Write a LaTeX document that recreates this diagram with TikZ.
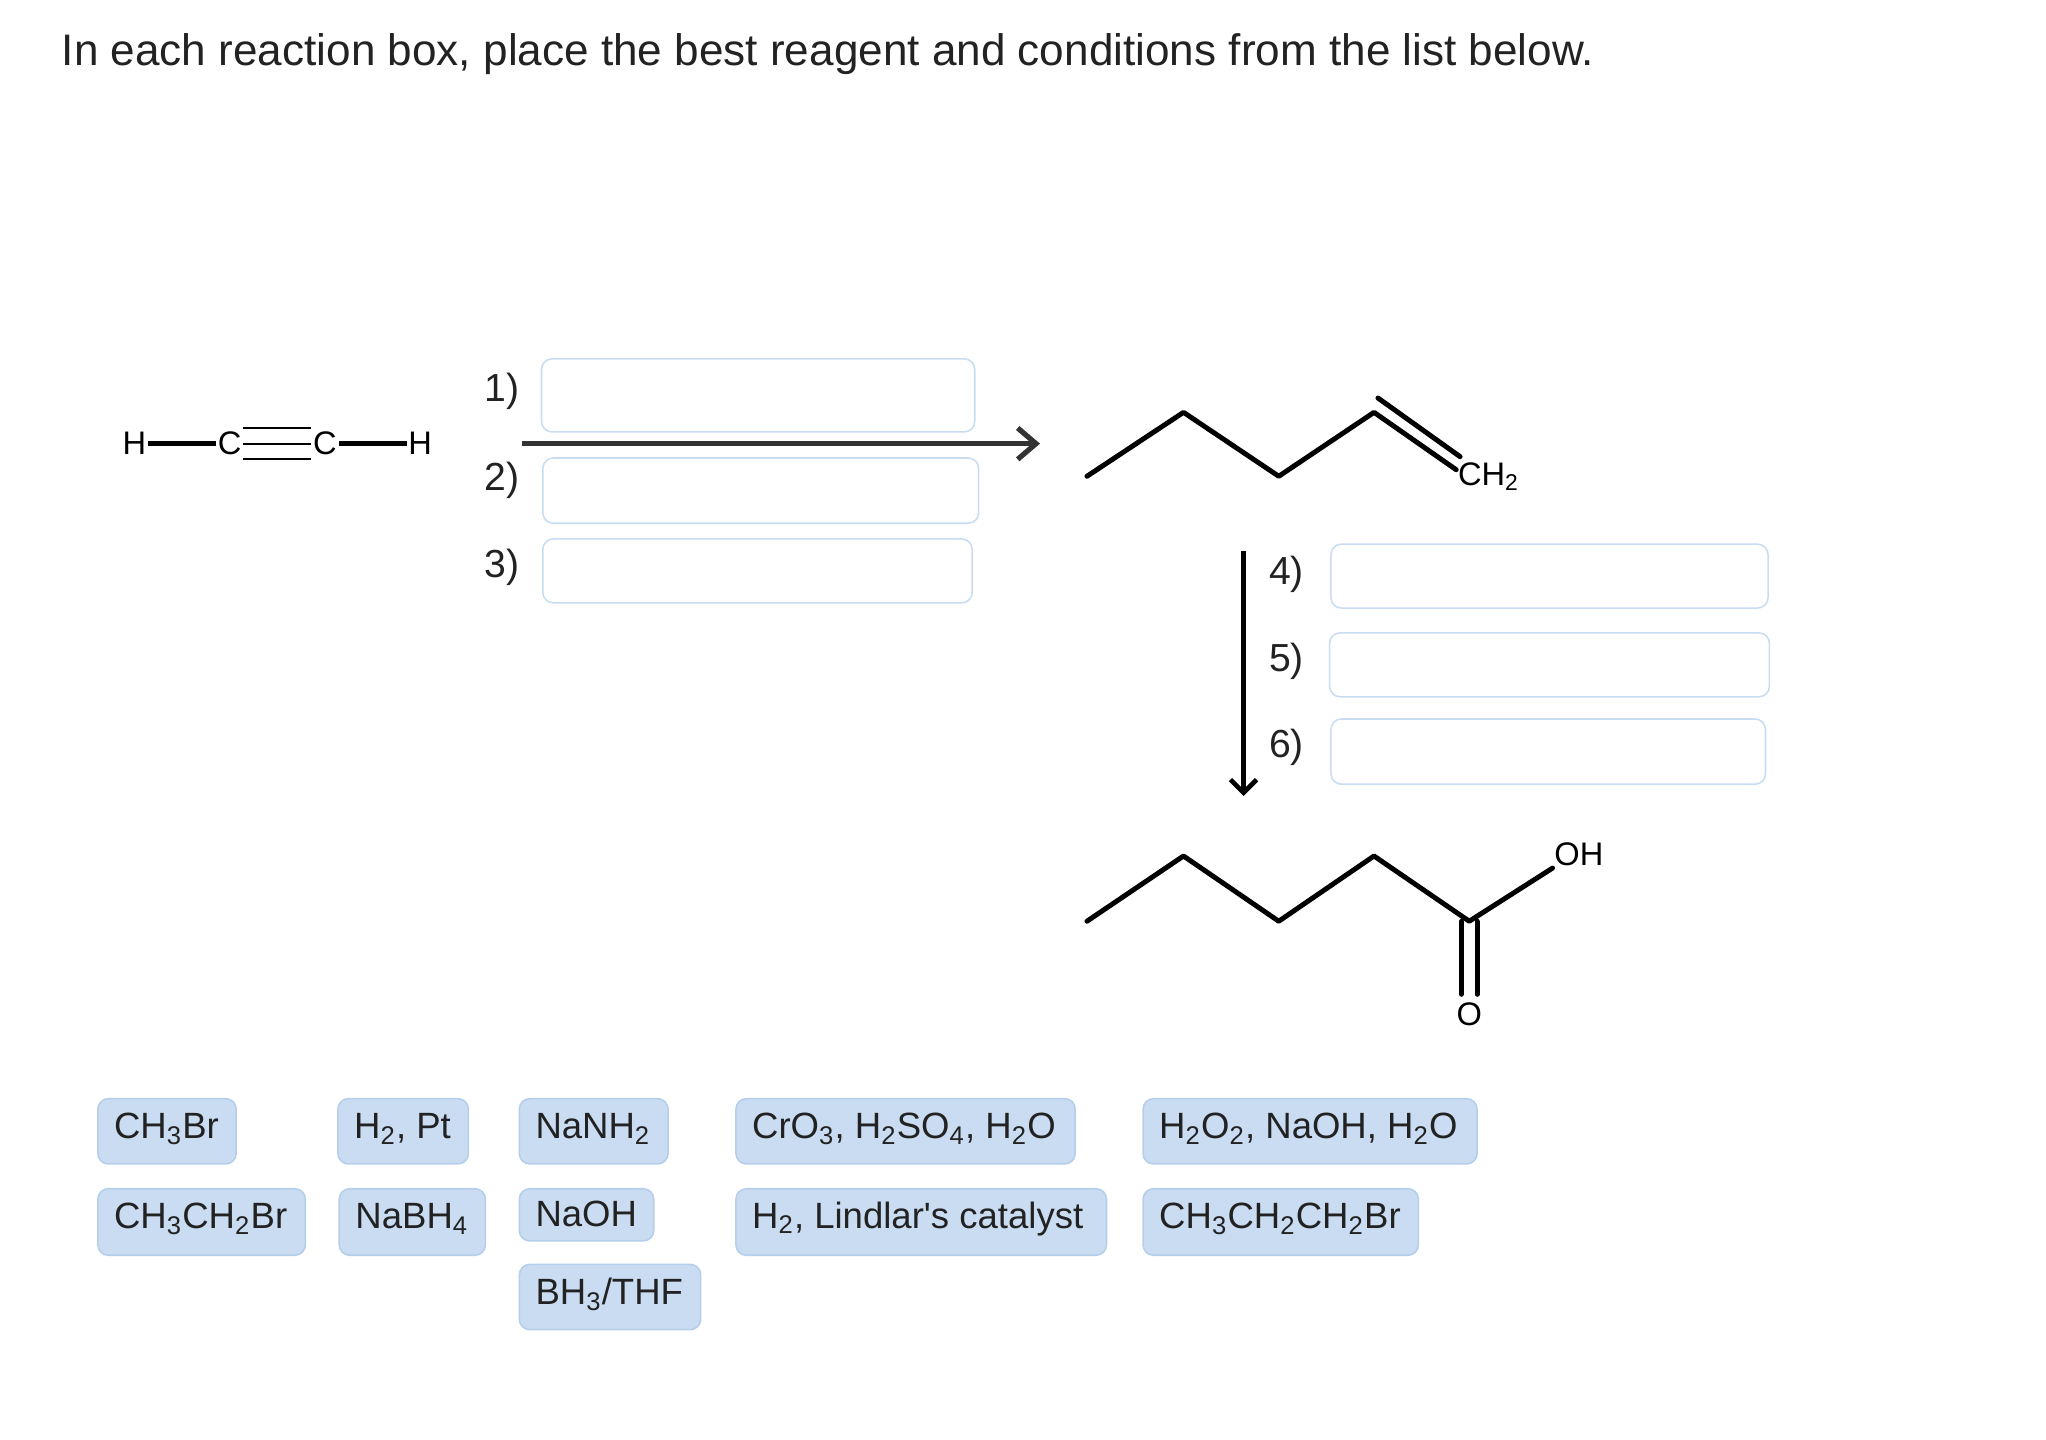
\documentclass[tikz,border=0pt]{standalone}
\usepackage{fontspec}
\setmainfont{Liberation Sans}
\usetikzlibrary{arrows.meta}
\newcommand\subs[1]{\textsubscript{#1}}
\definecolor{boxline}{HTML}{C8DCF2}
\definecolor{chipfill}{HTML}{C9DCF2}
\definecolor{chipline}{HTML}{B5CEEB}
\definecolor{ink}{HTML}{222222}
\tikzset{
  ansbox/.style={draw=boxline, line width=0.6pt, rounded corners=4pt},
  chip/.style={draw=chipline, fill=chipfill, line width=0.6pt, rounded corners=4pt},
  chiptext/.style={anchor=west, font=\fontsize{14}{16}\selectfont, text=ink, inner sep=0pt},
  numlbl/.style={font=\fontsize{15}{17}\selectfont, text=ink, inner sep=0pt},
  atom/.style={font=\fontsize{12.5}{14}\selectfont, inner sep=0.5pt},
  bond/.style={line width=1.9pt, line cap=round, line join=round}
}
\begin{document}
\begin{tikzpicture}[x=0.5pt,y=-0.5pt]
\useasboundingbox (0,0) rectangle (1568,1103);
\node[anchor=base west, inner sep=0pt, font=\fontsize{16.9}{19}\selectfont, text=ink] (title) at (47,50) {In each reaction box, place the best reagent and conditions from the list below.};
% acetylene
\node[atom] (h1) at (103,340) {H};
\node[atom] (c1) at (176,340) {C};
\node[atom] (c2) at (249,340) {C};
\node[atom] (h2) at (322,340) {H};
\draw[line width=2pt] (h1.east) -- (c1.west);
\draw[line width=2pt] (c2.east) -- (h2.west);
\draw[line width=0.8pt] (c1.east) -- (c2.west);
\draw[line width=0.8pt] ([yshift=6pt]c1.east) -- ([yshift=6pt]c2.west);
\draw[line width=0.8pt] ([yshift=-6pt]c1.east) -- ([yshift=-6pt]c2.west);
% main arrow
\coordinate (a0) at (400,340);
\coordinate (a1) at (797,340);
\draw[line width=2pt, draw=black!80, -{Straight Barb[length=7pt,width=12pt,line width=2pt]}] (a0) -- (a1);
\node[numlbl] (n1) at (385,300) {1)};
\node[numlbl] (n2) at (385,368) {2)};
\node[numlbl] (n3) at (385,435) {3)};
\draw[ansbox] (415,275) rectangle (747,331);
\draw[ansbox] (416,351) rectangle (750,401);
\draw[ansbox] (416,413) rectangle (745,462);
% alkene
\node[atom, anchor=west] (ch2) at (1116,365) {CH\subs{2}};
\draw[bond] (833,365) -- (907,316) -- (980,365) -- (1053,316) -- (1116,360);
\draw[bond] (1056,305) -- (1119,350);
% down arrow
\coordinate (d0) at (953,422);
\coordinate (d1) at (953,610);
\draw[line width=1.8pt, -{Straight Barb[length=5pt,width=10pt,line width=1.8pt]}] (d0) -- (d1);
\node[numlbl] (n4) at (986,440) {4)};
\node[numlbl] (n5) at (986,507) {5)};
\node[numlbl] (n6) at (986,573) {6)};
\draw[ansbox] (1020,417) rectangle (1355,466);
\draw[ansbox] (1019,485) rectangle (1356,534);
\draw[ansbox] (1020,551) rectangle (1353,601);
% acid
\node[atom] (oh) at (1210,655) {OH};
\node[atom] (o) at (1126,777) {O};
\draw[bond] (833,706) -- (907,656) -- (980,706) -- (1053,656) -- (1126,706) -- (oh.south west);
\draw[bond] (1120,706) -- (1120,762);
\draw[bond] (1132,706) -- (1132,762);
% chips
\draw[chip] (75,842) rectangle (181,892);   \node[chiptext] (k1) at (87,865) {CH\subs{3}Br};
\draw[chip] (259,842) rectangle (359,892);  \node[chiptext] (k2) at (271,865) {H\subs{2}, Pt};
\draw[chip] (398,842) rectangle (512,892);  \node[chiptext] (k3) at (410,865) {NaNH\subs{2}};
\draw[chip] (564,842) rectangle (824,892);  \node[chiptext] (k4) at (576,865) {CrO\subs{3}, H\subs{2}SO\subs{4}, H\subs{2}O};
\draw[chip] (876,842) rectangle (1132,892); \node[chiptext] (k5) at (888,865) {H\subs{2}O\subs{2}, NaOH, H\subs{2}O};
\draw[chip] (75,911) rectangle (234,962);   \node[chiptext] (k6) at (87,934) {CH\subs{3}CH\subs{2}Br};
\draw[chip] (260,911) rectangle (372,962);  \node[chiptext] (k7) at (272,934) {NaBH\subs{4}};
\draw[chip] (398,911) rectangle (501,951);  \node[chiptext] (k8) at (410,930) {NaOH};
\draw[chip] (564,911) rectangle (848,962);  \node[chiptext] (k9) at (576,934) {H\subs{2}, Lindlar\textquotesingle s catalyst};
\draw[chip] (876,911) rectangle (1087,962); \node[chiptext] (k10) at (888,934) {CH\subs{3}CH\subs{2}CH\subs{2}Br};
\draw[chip] (398,969) rectangle (537,1019); \node[chiptext] (k11) at (410,992) {BH\subs{3}/THF};
\end{tikzpicture}
\end{document}
